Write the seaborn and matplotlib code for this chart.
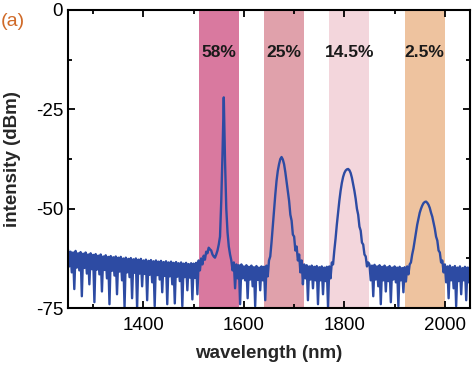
import numpy as np
import pandas as pd
import matplotlib
matplotlib.use("Agg")
import matplotlib.pyplot as plt
import seaborn as sns
from matplotlib.ticker import MultipleLocator

# wavelength grid (nm), one sample every 2.5 nm
wavelength = np.arange(1250, 2050.1, 2.5)

# intensity (dBm), 20 samples (50 nm) per row
intensity = [
    -60.3, -64.5, -60.8, -66.0, -61.0, -70.2, -60.6, -64.8, -61.2, -65.5, -60.9, -72.0, -61.3, -64.9, -61.0, -66.3, -61.5, -69.0, -61.2, -65.2,
    -61.6, -73.5, -61.4, -65.3, -61.8, -66.5, -61.5, -70.8, -62.0, -65.4, -61.7, -67.5, -62.1, -74.0, -61.9, -65.6, -62.2, -66.8, -62.0, -71.5,
    -62.3, -65.8, -62.1, -68.0, -62.5, -74.8, -62.3, -66.0, -62.6, -67.2, -62.4, -72.5, -62.7, -66.1, -62.5, -75.0, -62.8, -66.3, -62.6, -69.5,
    -63.0, -66.4, -62.8, -73.0, -63.1, -66.6, -62.9, -68.5, -63.2, -74.5, -63.0, -66.7, -63.3, -67.8, -63.1, -71.0, -63.4, -66.9, -63.2, -74.0,
    -63.5, -67.0, -63.3, -69.0, -63.6, -73.8, -63.4, -67.1, -63.7, -68.2, -63.5, -74.5, -63.8, -67.2, -63.6, -70.5, -63.9, -67.3, -63.7, -72.8,
    -63.8, -67.4, -63.6, -71.5, -63.0, -65.5, -62.5, -64.0, -61.8, -62.8, -60.8, -61.2, -59.8, -60.2, -60.5, -61.5, -62.0, -62.3, -61.5, -60.5,
    -59.0, -57.0, -48.0, -36.0, -22.0, -38.0, -50.0, -56.0, -59.5, -61.5, -63.0, -65.5, -63.5, -70.0, -64.0, -67.5, -64.2, -74.0, -64.0, -67.5,
    -64.5, -68.0, -64.2, -72.5, -64.6, -67.8, -64.3, -69.5, -64.7, -74.5, -64.4, -67.9, -64.8, -70.5, -64.5, -68.0, -64.6, -73.0, -64.3, -67.0,
    -63.0, -62.0, -58.5, -54.5, -50.5, -46.5, -43.0, -40.5, -38.8, -37.5, -37.0, -37.6, -38.8, -40.8, -43.2, -45.8, -48.0, -51.5, -53.0, -56.5,
    -57.0, -60.5, -59.5, -63.0, -61.5, -66.0, -63.0, -69.0, -64.0, -67.5, -64.2, -73.0, -64.5, -67.8, -64.3, -70.0, -64.6, -68.0, -64.4, -74.0,
    -64.7, -68.0, -64.5, -71.5, -64.8, -68.2, -64.6, -74.8, -64.5, -67.5, -63.5, -64.0, -60.5, -57.5, -54.0, -51.0, -48.0, -45.5, -43.5, -42.0,
    -41.0, -40.4, -40.1, -40.0, -40.3, -41.0, -42.2, -43.8, -45.5, -47.5, -50.0, -51.5, -54.5, -55.5, -58.5, -59.0, -61.5, -62.0, -64.5, -63.5,
    -64.0, -68.0, -64.3, -72.0, -64.1, -67.8, -64.5, -69.5, -64.2, -74.0, -64.6, -68.0, -64.3, -70.8, -64.7, -68.2, -64.4, -73.5, -64.8, -67.8,
    -64.5, -68.5, -64.8, -74.5, -64.6, -68.0, -64.9, -71.0, -64.7, -68.3, -64.5, -66.5, -64.0, -63.5, -61.5, -60.0, -58.0, -56.0, -54.0, -52.5,
    -51.0, -50.0, -49.2, -48.6, -48.3, -48.2, -48.5, -49.0, -49.8, -51.0, -52.0, -53.5, -55.0, -57.0, -58.0, -60.5, -61.0, -63.5, -63.0, -66.0,
    -64.0, -68.5, -64.5, -72.5, -64.3, -68.0, -64.7, -70.0, -64.4, -74.5, -64.8, -68.2, -64.5, -71.5, -64.9, -68.0, -64.6, -73.0, -64.8, -68.5,
    -64.5,
]

# shaded bands (nm) and their labels
band_lo = [1510, 1640, 1770, 1920]
band_hi = [1590, 1720, 1850, 2000]
band_labels = ["58%", "25%", "14.5%", "2.5%"]
band_colors = ["#d9799f", "#e0a1ab", "#f3d6dc", "#eec39f"]

df = pd.DataFrame({"wavelength": wavelength, "intensity": intensity})

sns.set_theme(style="ticks")
plt.rcParams["font.family"] = ["Liberation Sans", "DejaVu Sans"]
plt.rcParams["axes.unicode_minus"] = False

fig = plt.figure(figsize=(4.74, 3.66), dpi=100)
ax = fig.add_axes([0.1435, 0.158, 0.848, 0.815])

for lo, hi, lab, c in zip(band_lo, band_hi, band_labels, band_colors):
    ax.axvspan(lo, hi, color=c, lw=0, zorder=0)
    ax.text((lo + hi) / 2, -10.8, lab, ha="center", va="center",
            fontsize=12.5, fontweight="bold", color="#1a1a1a")

sns.lineplot(data=df, x="wavelength", y="intensity", ax=ax, sort=False,
             color="#2d4ba3", lw=1.7, zorder=2)

ax.set_xlim(1250, 2050)
ax.set_ylim(-75, 0)
ax.xaxis.set_major_locator(MultipleLocator(200))
ax.xaxis.set_minor_locator(MultipleLocator(100))
ax.yaxis.set_major_locator(MultipleLocator(25))
ax.yaxis.set_minor_locator(MultipleLocator(12.5))
ax.tick_params(which="both", direction="in", top=True, right=True,
               colors="black", labelsize=13.5, width=1.3)
ax.tick_params(which="major", length=5)
ax.tick_params(which="minor", length=3)
ax.tick_params(axis="x", pad=6)
for s in ax.spines.values():
    s.set_linewidth(1.5)
    s.set_color("black")

ax.set_xlabel("wavelength (nm)", fontsize=13.5, fontweight="bold", labelpad=8)
ax.set_ylabel("intensity (dBm)", fontsize=13.5, fontweight="bold", labelpad=11)

fig.text(0.002, 0.94, "(a)", fontsize=14, color="#d06a28", ha="left", va="center")

fig.savefig("out.png", dpi=100)
